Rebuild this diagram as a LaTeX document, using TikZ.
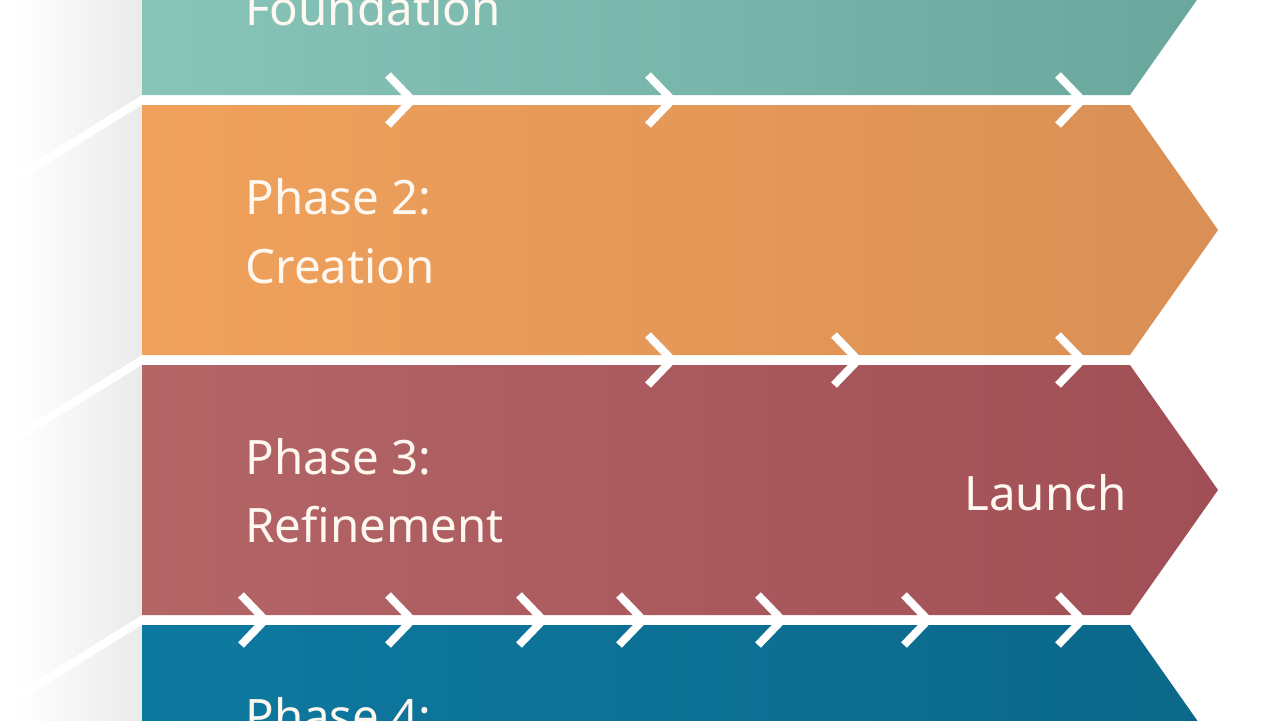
\documentclass[tikz,border=0pt]{standalone}
\usepackage{fontspec}
\setsansfont{Noto Sans}
\renewcommand\familydefault{\sfdefault}
\definecolor{tealL}{HTML}{88C4B8}
\definecolor{tealR}{HTML}{69A79D}
\definecolor{orgL}{HTML}{F0A25C}
\definecolor{orgR}{HTML}{D98F55}
\definecolor{redL}{HTML}{B46566}
\definecolor{redR}{HTML}{A04F56}
\definecolor{bluL}{HTML}{0E79A0}
\definecolor{bluR}{HTML}{0B6889}
\definecolor{txt}{HTML}{FFF8F0}
\pgfdeclarehorizontalshading{sidefade}{100bp}{color(0bp)=(white); color(30bp)=(white); color(75bp)=(black!8); color(100bp)=(black!16)}

\begin{document}
\begin{tikzpicture}[x=0.02cm, y=-0.02cm,
		label/.style={anchor=base west, inner sep=0pt, text=txt, font=\fontsize{27}{32}\selectfont},
		tick/.style={draw=white, line width=4.5pt, line join=miter}]
		\useasboundingbox (0,0) rectangle (1280,720);
		\fill[white] (0,0) rectangle (1280,720);
		\foreach \t/\cl/\cr in {-155/tealL/tealR, 105/orgL/orgR, 365/redL/redR, 625/bluL/bluR} {
			\shade[shading=sidefade] (0,{\t+88}) -- (142,\t) -- (142,{\t+250}) -- (0,{\t+338}) -- cycle;
			\shade[left color=\cl, right color=\cr] (142,\t) -- (1130,\t) -- (1218,{\t+125}) -- (1130,{\t+250}) -- (142,{\t+250}) -- cycle;
		}
		\node[label] (foundation) at (245,25) {Foundation};
		\node[label] (phasetwo) at (245,214) {Phase 2:};
		\node[label] (creation) at (245,283) {Creation};
		\node[label] (phasethree) at (245,474) {Phase 3:};
		\node[label] (refinement) at (245,542) {Refinement};
		\node[label, anchor=base east] (launch) at (1127,510) {Launch};
		\node[label] (phasefour) at (245,733) {Phase 4:};
		\foreach \y/\xs in {100/{412,672,1082}, 360/{672,858,1082}, 620/{265,412,543,643,782,928,1082}} {
			\foreach \x in \xs
				\draw[tick] ({\x-24},{\y-25}) -- (\x,\y) -- ({\x-24},{\y+25});
		}
\end{tikzpicture}
\end{document}
